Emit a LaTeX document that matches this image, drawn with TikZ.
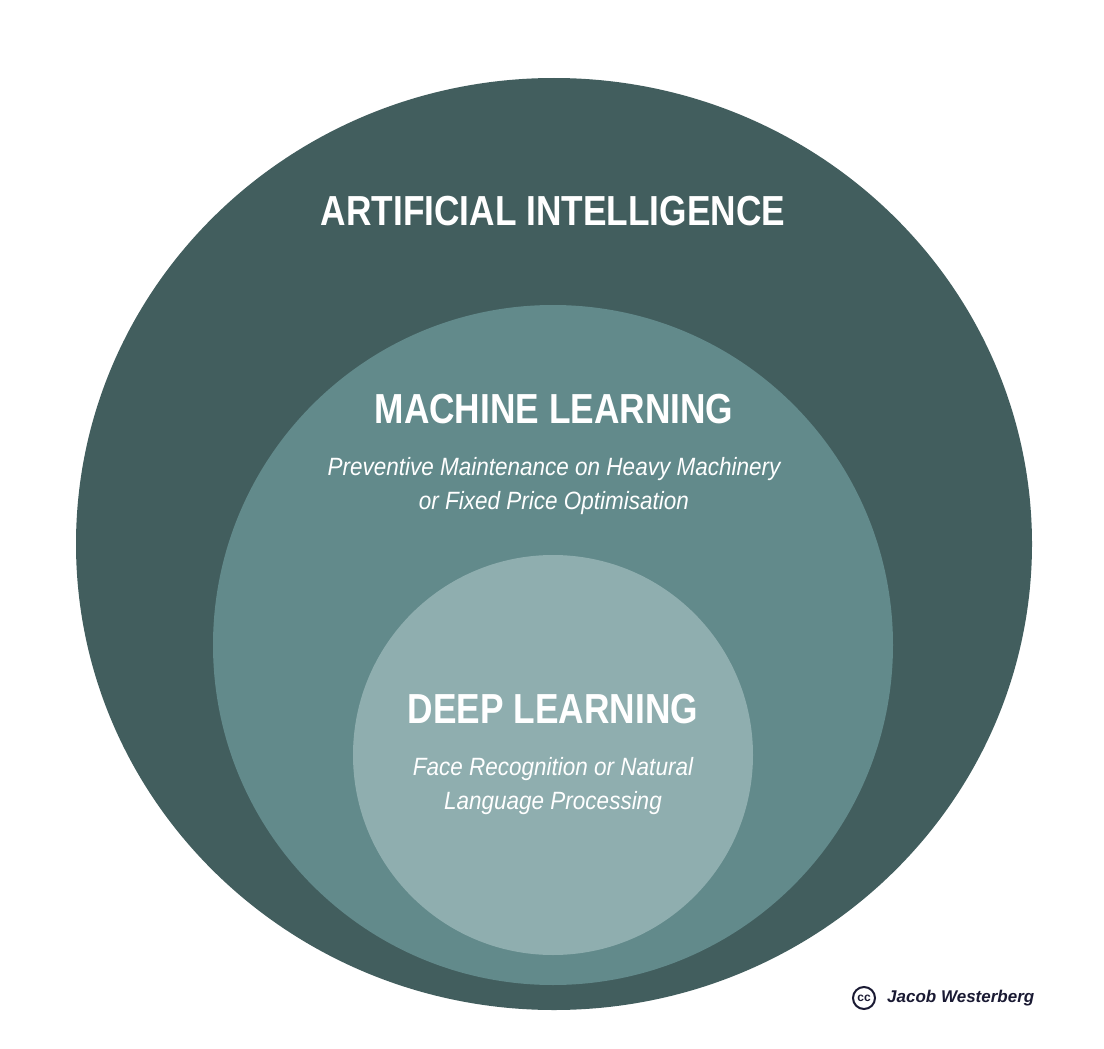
\documentclass[tikz,border=0pt]{standalone}
\usepackage{fontspec}
\setmainfont{Liberation Sans}[FakeStretch=0.84]
\newfontfamily\credit{Liberation Sans}
\newfontfamily\subfont{Liberation Sans}[FakeStretch=0.9]
\definecolor{aicol}{HTML}{425E5E}
\definecolor{mlcol}{HTML}{628A8B}
\definecolor{dlcol}{HTML}{8FAEAF}
\definecolor{navy}{HTML}{1A1A33}
\tikzset{
 title/.style={text=white,font=\bfseries\fontsize{42}{46}\selectfont,inner sep=0pt},
 sub/.style={text=white,font=\subfont\itshape\fontsize{25}{34}\selectfont,align=center,inner sep=0pt}
}
\begin{document}
\begin{tikzpicture}[x=1pt,y=-1pt]
\useasboundingbox[fill=white] (0,0) rectangle (1104,1049);
\fill[aicol] (554,544) ellipse [x radius=478,y radius=466];
\fill[mlcol] (553,645) circle [radius=340];
\fill[dlcol] (553,755) circle [radius=200];
\node[title] (ai) at (553,211) {ARTIFICIAL INTELLIGENCE};
\node[title] (ml) at (554,409) {MACHINE LEARNING};
\node[sub] (mls) at (554,486) {Preventive Maintenance on Heavy Machinery\\or Fixed Price Optimisation};
\node[title] (dl) at (553,709) {DEEP LEARNING};
\node[sub] (dls) at (553,786) {Face Recognition or Natural\\Language Processing};
\node[draw=navy,line width=2pt,circle,minimum size=22pt,inner sep=0pt,text=navy,font=\credit\bfseries\fontsize{12}{12}\selectfont] (cc) at (864,998) {cc};
\node[anchor=west,text=navy,font=\credit\bfseries\itshape\fontsize{17}{17}\selectfont,inner sep=0pt] (jw) at (887,998) {Jacob Westerberg};
\end{tikzpicture}
\end{document}
